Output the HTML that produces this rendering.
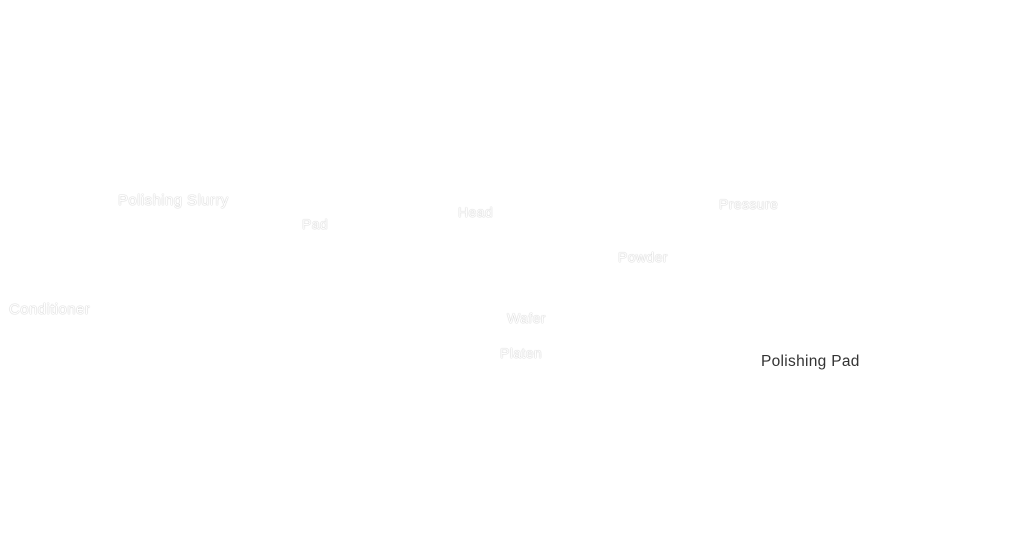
<!DOCTYPE html>
<html><head><meta charset="utf-8"><style>
html,body{margin:0;padding:0;background:#fff;width:1024px;height:553px;overflow:hidden;position:relative;font-family:"Liberation Sans","DejaVu Sans",sans-serif;}
.l{position:absolute;font-size:14px;color:#fff;white-space:nowrap;letter-spacing:0.4px;
text-shadow:0 0 1px #bbb,0 0 1px #ccc;}
.d{position:absolute;font-size:15.5px;color:#333;white-space:nowrap;letter-spacing:0.3px;}
</style></head><body>
<div class="l" style="left:118px;top:192px;font-size:15px">Polishing Slurry</div>
<div class="l" style="left:302px;top:216px">Pad</div>
<div class="l" style="left:458px;top:204px">Head</div>
<div class="l" style="left:719px;top:196px">Pressure</div>
<div class="l" style="left:618px;top:249px">Powder</div>
<div class="l" style="left:9px;top:301px;font-size:15px">Conditioner</div>
<div class="l" style="left:507px;top:310px">Wafer</div>
<div class="l" style="left:500px;top:345px">Platen</div>
<div class="d" style="left:761px;top:353px">Polishing Pad</div>
</body></html>
